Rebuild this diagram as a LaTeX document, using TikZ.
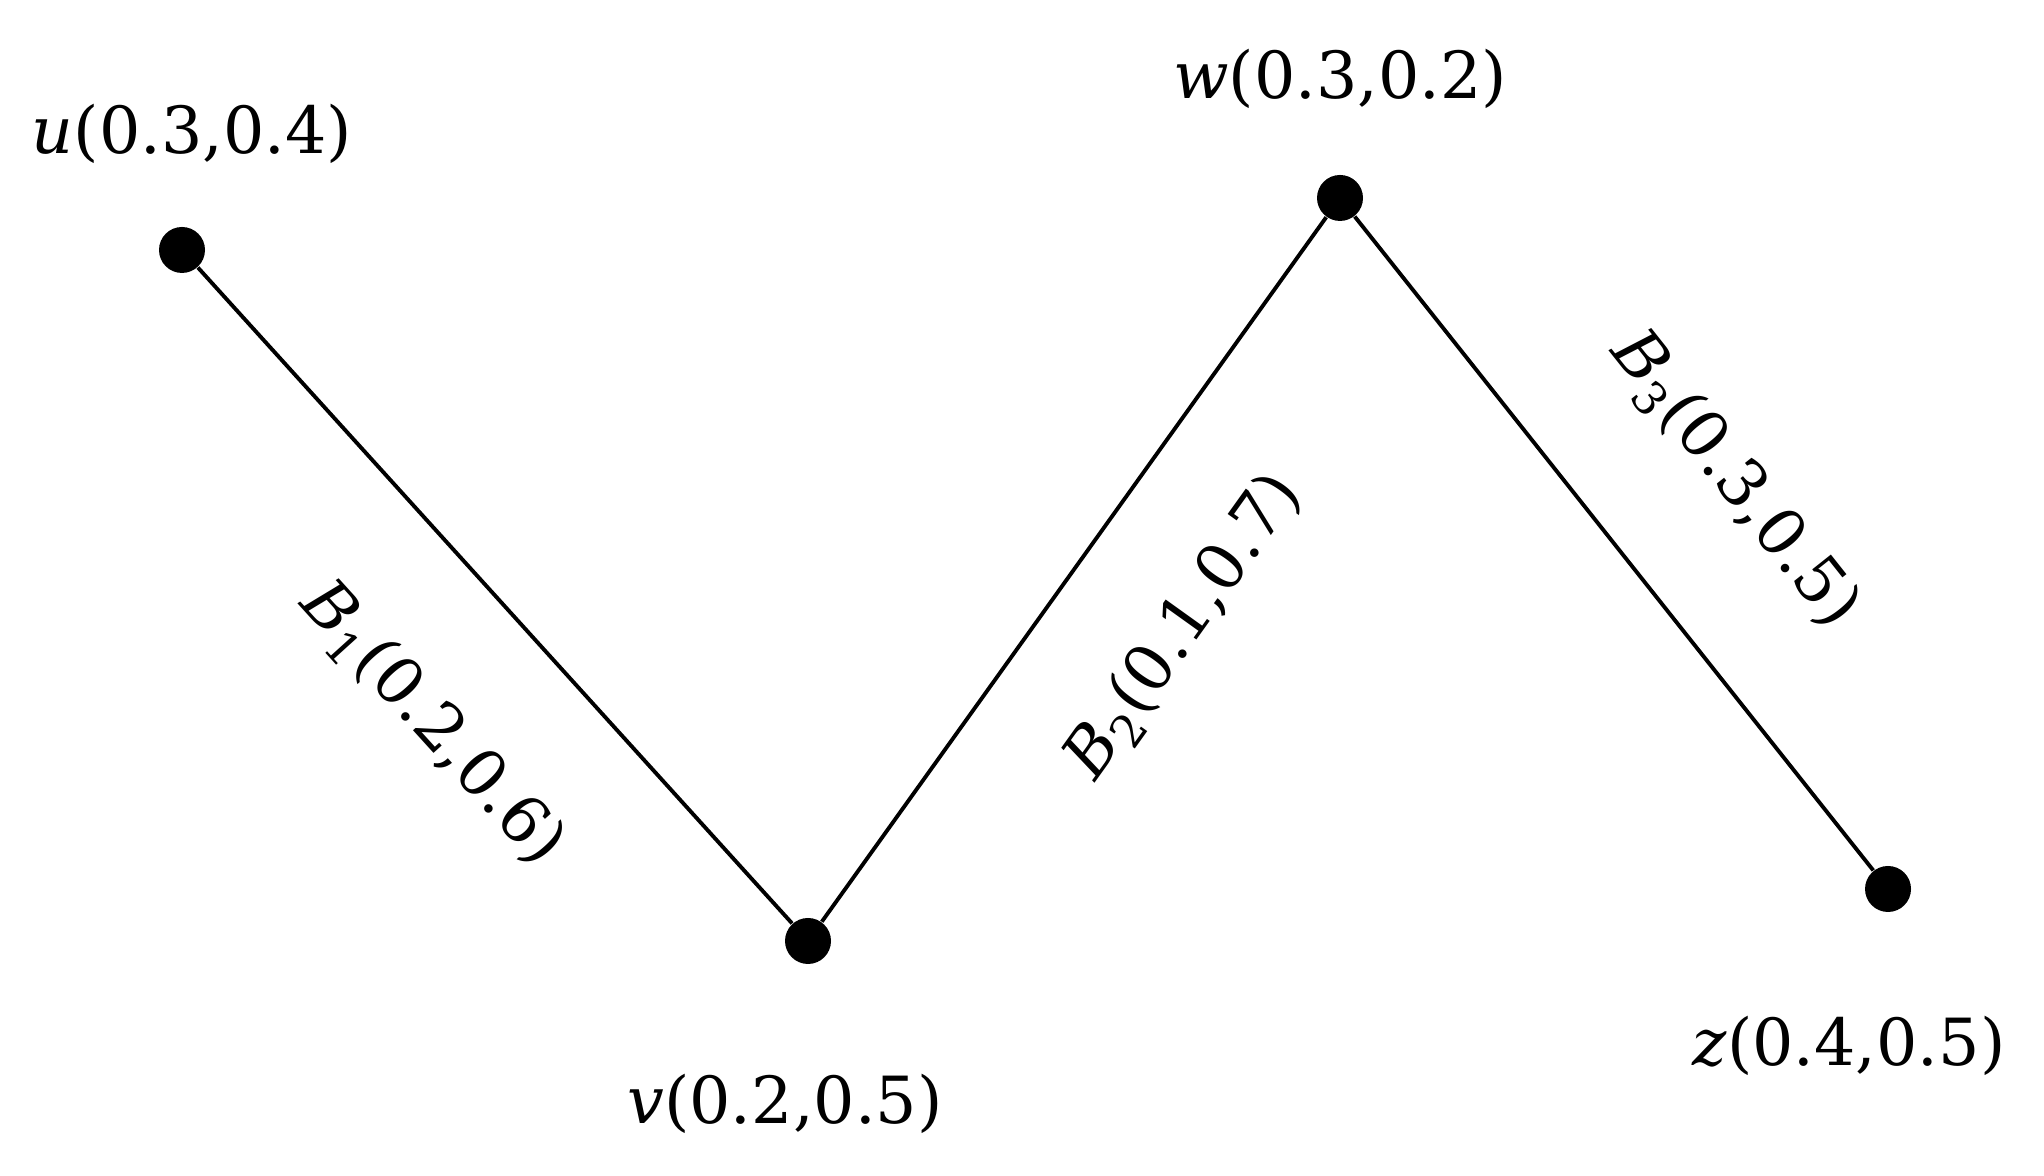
\documentclass[tikz,border=0pt]{standalone}
\usepackage{fontspec}
\setmainfont{DejaVu Serif}
\usetikzlibrary{positioning}
\tikzset{vertex/.style={circle, fill=black, inner sep=0pt, minimum size=0.46cm}, % the black dots
vlabel/.style={inner sep=0pt, font=\fontsize{18.5}{20}\selectfont}, % the labels of the dots
elabel/.style={sloped, inner sep=0pt, font=\fontsize{18.5}{20}\selectfont}, % the labels along the edges
edge line/.style={line width=1.1pt},
}

\begin{document}
\begin{tikzpicture}
\useasboundingbox (0,0) rectangle (20.44,11.76);
\node[vertex] (u) at (1.82,9.26) {};
\node[vertex] (v) at (8.08,2.35) {};
\node[vertex] (w) at (13.40,9.78) {};
\node[vertex] (z) at (18.88,2.87) {};
\node[vlabel, above=0.62cm of u, xshift=0.1cm] (ulab) {\textit{u}(0.3,0.4)};
\node[vlabel, below=1.09cm of v, xshift=-0.23cm] (vlab) {\textit{v}(0.2,0.5)};
\node[vlabel, above=0.65cm of w] (wlab) {\textit{w}(0.3,0.2)};
\node[vlabel, below=1.03cm of z, xshift=-0.39cm] (zlab) {\textit{z}(0.4,0.5)};
\draw[edge line] (u) -- node[elabel, pos=0.56, below=1.0cm] (b1) {\textit{B}\textsubscript{1}(0.2,0.6)} (v)
(v) -- node[elabel, pos=0.52, below=0.9cm] (b2) {\textit{B}\textsubscript{2}(0.1,0.7)} (w)
(w) -- node[elabel, pos=0.53, above=1.0cm] (b3) {\textit{B}\textsubscript{3}(0.3,0.5)} (z);
\end{tikzpicture}
\end{document}
